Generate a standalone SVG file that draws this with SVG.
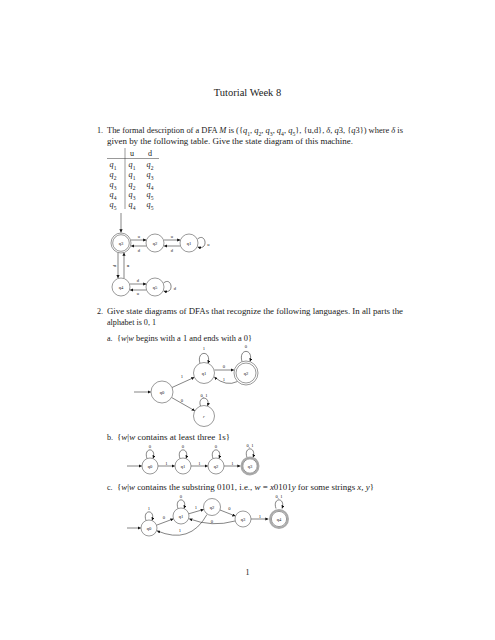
<svg xmlns="http://www.w3.org/2000/svg" width="495" height="640" viewBox="0 0 495 640">
<defs>
<style>
.t{font-family:"Liberation Serif",serif;font-size:8.1px;fill:#222}
.ti{font-family:"Liberation Serif",serif;font-size:10.5px;fill:#222}
.s{font-family:"Liberation Serif",serif;font-size:4.6px;fill:#222;text-anchor:middle}
.n{fill:#fff;stroke:#555;stroke-width:0.6}
.g{fill:none;stroke:#aaa;stroke-width:2}
.e{fill:none;stroke:#333;stroke-width:0.6;marker-end:url(#a)}
.i{font-style:italic}
.tl{stroke:#333;stroke-width:0.5}
</style>
<marker id="a" viewBox="0 0 6 6" refX="6" refY="3" markerWidth="3.2" markerHeight="3.2" orient="auto" markerUnits="userSpaceOnUse"><path d="M0,0 L6,3 L0,6 z" fill="#111"/></marker>
</defs>
<rect width="495" height="640" fill="#fff"/>

<text class="ti" x="247.5" y="96" text-anchor="middle">Tutorial Week 8</text>

<text class="t" x="97" y="133">1.</text>
<text class="t" x="107" y="133" textLength="296" lengthAdjust="spacingAndGlyphs">The formal description of a DFA <tspan class="i">M</tspan> is ({<tspan class="i">q</tspan><tspan baseline-shift="sub" font-size="5.5">1</tspan>, <tspan class="i">q</tspan><tspan baseline-shift="sub" font-size="5.5">2</tspan>, <tspan class="i">q</tspan><tspan baseline-shift="sub" font-size="5.5">3</tspan>, <tspan class="i">q</tspan><tspan baseline-shift="sub" font-size="5.5">4</tspan>, <tspan class="i">q</tspan><tspan baseline-shift="sub" font-size="5.5">5</tspan>}, {u,d}, <tspan class="i">δ</tspan>, <tspan class="i">q</tspan>3, {<tspan class="i">q</tspan>3}) where <tspan class="i">δ</tspan> is</text>
<text class="t" x="107" y="143.5" textLength="246" lengthAdjust="spacingAndGlyphs">given by the following table. Give the state diagram of this machine.</text>

<g id="table">
<line class="tl" x1="125" y1="148" x2="125" y2="209"/>
<line class="tl" x1="107" y1="158.5" x2="159" y2="158.5"/>
<text class="t" x="132" y="156" text-anchor="middle">u</text>
<text class="t" x="150" y="156" text-anchor="middle">d</text>
<g class="t" text-anchor="middle">
<text x="113" y="166.5"><tspan class="i">q</tspan><tspan baseline-shift="sub" font-size="5.5">1</tspan></text>
<text x="132" y="166.5"><tspan class="i">q</tspan><tspan baseline-shift="sub" font-size="5.5">1</tspan></text>
<text x="150" y="166.5"><tspan class="i">q</tspan><tspan baseline-shift="sub" font-size="5.5">2</tspan></text>
<text x="113" y="176.5"><tspan class="i">q</tspan><tspan baseline-shift="sub" font-size="5.5">2</tspan></text>
<text x="132" y="176.5"><tspan class="i">q</tspan><tspan baseline-shift="sub" font-size="5.5">1</tspan></text>
<text x="150" y="176.5"><tspan class="i">q</tspan><tspan baseline-shift="sub" font-size="5.5">3</tspan></text>
<text x="113" y="186.5"><tspan class="i">q</tspan><tspan baseline-shift="sub" font-size="5.5">3</tspan></text>
<text x="132" y="186.5"><tspan class="i">q</tspan><tspan baseline-shift="sub" font-size="5.5">2</tspan></text>
<text x="150" y="186.5"><tspan class="i">q</tspan><tspan baseline-shift="sub" font-size="5.5">4</tspan></text>
<text x="113" y="196.5"><tspan class="i">q</tspan><tspan baseline-shift="sub" font-size="5.5">4</tspan></text>
<text x="132" y="196.5"><tspan class="i">q</tspan><tspan baseline-shift="sub" font-size="5.5">3</tspan></text>
<text x="150" y="196.5"><tspan class="i">q</tspan><tspan baseline-shift="sub" font-size="5.5">5</tspan></text>
<text x="113" y="206.5"><tspan class="i">q</tspan><tspan baseline-shift="sub" font-size="5.5">5</tspan></text>
<text x="132" y="206.5"><tspan class="i">q</tspan><tspan baseline-shift="sub" font-size="5.5">4</tspan></text>
<text x="150" y="206.5"><tspan class="i">q</tspan><tspan baseline-shift="sub" font-size="5.5">5</tspan></text>
</g>
</g>

<!-- Diagram 1 connectors -->
<g id="edges1">
<path class="e" d="M121,213 L121,232.5"/>
<path class="e" d="M131,240 L146.3,240"/>
<path class="e" d="M146.3,246 L131,246"/>
<path class="e" d="M164,240 L180.3,240"/>
<path class="e" d="M180.3,246 L164,246"/>
<path class="e" d="M197.5,239 C206,232 209,251 197.7,247"/>
<path class="e" d="M118,252.6 L118,278.2"/>
<path class="e" d="M124,278.2 L124,252.6"/>
<path class="e" d="M130,284 L146.3,284"/>
<path class="e" d="M146.3,290 L130,290"/>
<path class="e" d="M163.5,283 C172,276 175,295 163.7,291"/>
<text class="s" x="139" y="238">u</text>
<text class="s" x="139" y="251.5">d</text>
<text class="s" x="172" y="238">u</text>
<text class="s" x="172" y="251.5">d</text>
<text class="s" x="208.5" y="245.5">u</text>
<text class="s" x="114.5" y="267" transform="rotate(-90 114.5 266)">d</text>
<text class="s" x="127.5" y="267" transform="rotate(-90 127.5 266)">u</text>
<text class="s" x="138" y="282">d</text>
<text class="s" x="138" y="295">u</text>
<text class="s" x="175" y="289.5">d</text>
</g>
<g id="d1q3"><circle class="n" cx="121" cy="243" r="10"/><circle class="n" cx="121" cy="243" r="8.3"/><text class="s" x="121" y="244.6">q3</text></g>
<g id="d1q2"><circle class="n" cx="155" cy="243" r="9"/><text class="s" x="155" y="244.6">q2</text></g>
<g id="d1q1"><circle class="n" cx="189" cy="243" r="9"/><text class="s" x="189" y="244.6">q1</text></g>
<g id="d1q4"><circle class="n" cx="121" cy="287" r="9"/><text class="s" x="121" y="288.6">q4</text></g>
<g id="d1q5"><circle class="n" cx="155" cy="287" r="9"/><text class="s" x="155" y="288.6">q5</text></g>

<text class="t" x="97" y="314">2.</text>
<text class="t" x="107" y="314" textLength="296" lengthAdjust="spacingAndGlyphs">Give state diagrams of DFAs that recognize the following languages. In all parts the</text>
<text class="t" x="107" y="325">alphabet is 0, 1</text>
<text class="t" x="107" y="341">a.</text>
<text class="t" x="117" y="341" textLength="135" lengthAdjust="spacingAndGlyphs">{<tspan class="i">w</tspan>|<tspan class="i">w</tspan> begins with a 1 and ends with a 0}</text>

<!-- Diagram a -->
<g id="edgesA">
<path class="e" d="M134,392 L150.8,392"/>
<path class="e" d="M172,387.5 L194.4,377.3"/>
<path class="e" d="M171.6,397.5 L194.9,410.8"/>
<path class="e" d="M214.5,370 L234,370"/>
<path class="e" d="M237.5,381.5 Q226,387 214.3,377"/>
<path class="e" d="M200,363.5 C196,350 212,350 208,363.5"/>
<path class="e" d="M242,361.5 C238,348 254,348 250,361.5"/>
<path class="e" d="M200.5,406 C197,395.5 211,395.5 207.5,406"/>
<text class="s" x="182" y="377.5">1</text>
<text class="s" x="182" y="401.5">0</text>
<text class="s" x="224" y="368">0</text>
<text class="s" x="224" y="381">1</text>
<text class="s" x="204" y="350">1</text>
<text class="s" x="246" y="348">0</text>
<text class="s" x="204" y="396.5">0, 1</text>
</g>
<g id="aq0"><circle class="n" cx="162" cy="392" r="11"/><text class="s" x="162" y="393.6">q0</text></g>
<g id="aq1"><circle class="n" cx="204" cy="373" r="10.5"/><text class="s" x="204" y="374.6">q1</text></g>
<g id="aq2"><circle class="n" cx="246" cy="373" r="12"/><circle class="n" cx="246" cy="373" r="10"/><text class="s" x="246" y="374.6">q2</text></g>
<g id="ar"><circle class="n" cx="204" cy="416" r="10.5"/><text class="s" x="204" y="417.6" font-style="italic">r</text></g>

<text class="t" x="107" y="440">b.</text>
<text class="t" x="117" y="440" textLength="113" lengthAdjust="spacingAndGlyphs">{<tspan class="i">w</tspan>|<tspan class="i">w</tspan> contains at least three 1s}</text>

<!-- Diagram b -->
<g id="edgesB">
<path class="e" d="M127,466 L141.8,466"/>
<path class="e" d="M158,466 L174.8,466"/>
<path class="e" d="M191,466 L207.8,466"/>
<path class="e" d="M224,466 L240.5,466"/>
<path class="e" d="M147,458.5 C143,447 157,447 153,458.5"/>
<path class="e" d="M180,458.5 C176,447 190,447 186,458.5"/>
<path class="e" d="M213,458.5 C209,447 223,447 219,458.5"/>
<path class="e" d="M247,457.5 C243,446 257,446 253,457.5"/>
<text class="s" x="166.5" y="464.5">1</text>
<text class="s" x="199.5" y="464.5">1</text>
<text class="s" x="232.5" y="464.5">1</text>
<text class="s" x="150" y="448">0</text>
<text class="s" x="183" y="448">0</text>
<text class="s" x="216" y="448">0</text>
<text class="s" x="250" y="446.5">0, 1</text>
</g>
<g id="bq0"><circle class="n" cx="150" cy="466" r="8"/><text class="s" x="150" y="467.6">q0</text></g>
<g id="bq1"><circle class="n" cx="183" cy="466" r="8"/><text class="s" x="183" y="467.6">q1</text></g>
<g id="bq2"><circle class="n" cx="216" cy="466" r="8"/><text class="s" x="216" y="467.6">q2</text></g>
<g id="bq3"><circle class="g" cx="250" cy="466" r="8.5"/><circle class="n" cx="250" cy="466" r="7.2"/><text class="s" x="250" y="467.6">q3</text></g>

<text class="t" x="107" y="490">c.</text>
<text class="t" x="117" y="490" textLength="257" lengthAdjust="spacingAndGlyphs">{<tspan class="i">w</tspan>|<tspan class="i">w</tspan> contains the substring 0101, i.e., <tspan class="i">w</tspan> = <tspan class="i">x</tspan>0101<tspan class="i">y</tspan> for some strings <tspan class="i">x, y</tspan>}</text>

<!-- Diagram c -->
<g id="edgesC">
<path class="e" d="M127,528 L140.8,528"/>
<path class="e" d="M156.5,525.2 L173.5,518.8"/>
<path class="e" d="M188.7,513.8 L203.8,509.4"/>
<path class="e" d="M220,510 L235.5,516.1"/>
<path class="e" d="M251,519 L268.5,519"/>
<path class="e" d="M235,521 Q212,527.5 189.2,518.8"/>
<path class="e" d="M207,514.5 Q190,545 157,530.8"/>
<path class="e" d="M146,520.5 C142,509 156,509 152,520.5"/>
<path class="e" d="M178,508.5 C174,497 188,497 184,508.5"/>
<path class="e" d="M276,508.5 C272,497 286,497 282,508.5"/>
<text class="s" x="164" y="518.5">0</text>
<text class="s" x="196" y="509">1</text>
<text class="s" x="229.5" y="510">0</text>
<text class="s" x="260" y="517.5">1</text>
<text class="s" x="212" y="522.5">0</text>
<text class="s" x="180" y="532">1</text>
<text class="s" x="149" y="510">1</text>
<text class="s" x="181" y="498">0</text>
<text class="s" x="279" y="497.5">0, 1</text>
</g>
<g id="cq0"><circle class="n" cx="149" cy="528" r="8"/><text class="s" x="149" y="529.6">q0</text></g>
<g id="cq1"><circle class="n" cx="181" cy="516" r="8"/><text class="s" x="181" y="517.6">q1</text></g>
<g id="cq2"><circle class="n" cx="212" cy="507" r="8.5"/><text class="s" x="212" y="508.6">q2</text></g>
<g id="cq3"><circle class="n" cx="243" cy="519" r="8"/><text class="s" x="243" y="520.6">q3</text></g>
<g id="cq4"><circle class="g" cx="279" cy="519" r="9"/><circle class="n" cx="279" cy="519" r="7.6"/><text class="s" x="279" y="520.6">q4</text></g>

<text class="t" x="247.5" y="575" text-anchor="middle">1</text>
</svg>
